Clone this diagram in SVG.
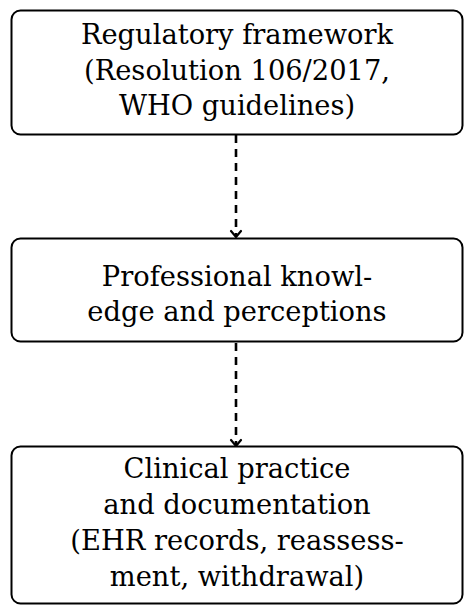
<svg xmlns="http://www.w3.org/2000/svg" width="474" height="616" viewBox="0 0 474 616">
<defs>
<style>
.box{fill:#fff;stroke:#000;stroke-width:2}
.t{font-family:"DejaVu Serif","Liberation Serif",serif;font-size:27.3px;fill:#000;text-anchor:middle}
.c{stroke:#000;stroke-width:2.6;stroke-dasharray:8,6;fill:none}
.h{stroke:#000;stroke-width:2.2;fill:none;stroke-linecap:round;stroke-linejoin:round}
</style>
</defs>
<rect width="474" height="616" fill="#fff"/>
<g id="connectors">
<line class="c" x1="236" y1="135" x2="236" y2="236"/>
<path class="h" d="M231,231 L236,237 L241,231"/>
<line class="c" x1="236" y1="343" x2="236" y2="445"/>
<path class="h" d="M231,440 L236,446 L241,440"/>
</g>
<g id="node1">
<rect class="box" x="11.5" y="10.5" width="451" height="124" rx="9"/>
<text class="t" x="237" y="44">Regulatory framework</text>
<text class="t" x="237" y="80">(Resolution 106/2017,</text>
<text class="t" x="237" y="115">WHO guidelines)</text>
</g>
<g id="node2">
<rect class="box" x="11.5" y="238.5" width="451" height="103" rx="9"/>
<text class="t" x="237" y="286">Professional knowl-</text>
<text class="t" x="237" y="321">edge and perceptions</text>
</g>
<g id="node3">
<rect class="box" x="11.5" y="446.5" width="451" height="157" rx="9"/>
<text class="t" x="237" y="478">Clinical practice</text>
<text class="t" x="237" y="514">and documentation</text>
<text class="t" x="237" y="550">(EHR records, reassess-</text>
<text class="t" x="237" y="586">ment, withdrawal)</text>
</g>
</svg>
